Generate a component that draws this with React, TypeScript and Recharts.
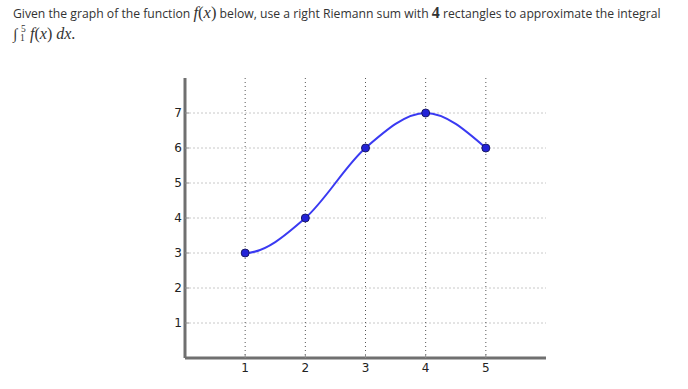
import { LineChart, Line, XAxis, YAxis, CartesianGrid } from "recharts"

const xValues = [1, 2, 3, 4, 5]
const fValues = [3, 4, 6, 7, 6]
const xTicks = [1, 2, 3, 4, 5]
const yTicks = [1, 2, 3, 4, 5, 6, 7]

const points = xValues.map((x, i) => ({ x, y: fValues[i] }))

const mathFont = "'Liberation Serif', 'DejaVu Serif', serif"

// monotone cubic, but starting flat (the reference curve leaves the first point horizontally)
const flatStartMonotone = (context: any) => {
    let xs: number[] = []
    let ys: number[] = []
    return {
        areaStart() {},
        areaEnd() {},
        lineStart() {
            xs = []
            ys = []
        },
        point(x: number, y: number) {
            xs.push(+x)
            ys.push(+y)
        },
        lineEnd() {
            const n = xs.length
            if (!n) return
            context.moveTo(xs[0], ys[0])
            if (n === 1) return
            const s: number[] = []
            for (let i = 0; i < n - 1; i++) s.push((ys[i + 1] - ys[i]) / (xs[i + 1] - xs[i]))
            const t: number[] = [0]
            for (let i = 1; i < n - 1; i++) {
                const h0 = xs[i] - xs[i - 1]
                const h1 = xs[i + 1] - xs[i]
                const p = (s[i - 1] * h1 + s[i] * h0) / (h0 + h1)
                t.push((Math.sign(s[i - 1]) + Math.sign(s[i])) * Math.min(Math.abs(s[i - 1]), Math.abs(s[i]), 0.5 * Math.abs(p)))
            }
            t.push(n > 2 ? (3 * s[n - 2] - t[n - 2]) / 2 : s[0])
            for (let i = 0; i < n - 1; i++) {
                const dx = (xs[i + 1] - xs[i]) / 3
                context.bezierCurveTo(xs[i] + dx, ys[i] + dx * t[i], xs[i + 1] - dx, ys[i + 1] - dx * t[i + 1], xs[i + 1], ys[i + 1])
            }
        },
    }
}

const hGrid = (props: any) => {
    const { yAxis, offset } = props
    if (yAxis && typeof yAxis.scale === "function") return yTicks.map((t) => yAxis.scale(t))
    return yTicks.map((t) => offset.top + offset.height * (1 - t / 8))
}

const vGrid = (props: any) => {
    const { xAxis, offset } = props
    if (xAxis && typeof xAxis.scale === "function") return xTicks.map((t) => xAxis.scale(t))
    return xTicks.map((t) => offset.left + (offset.width * t) / 6)
}

export default function App() {
    return (
        <div style={{ position: "absolute", left: 0, top: 0, width: 688, height: 389, background: "#fff", overflow: "hidden" }}>
            <div style={{ position: "absolute", left: 13, top: 4, fontFamily: "'Open Sans', sans-serif", fontSize: 12.2, color: "#333", lineHeight: "18px", whiteSpace: "nowrap" }}>
                Given the graph of the function{" "}
                <span style={{ fontFamily: mathFont, fontSize: 16.5 }}>
                    <i>f</i>(<i>x</i>)
                </span>{" "}
                below, use a right Riemann sum with{" "}
                <span style={{ fontFamily: mathFont, fontWeight: "bold", fontSize: 16 }}>4</span>{" "}
                rectangles to approximate the integral
            </div>
            <div style={{ position: "absolute", left: 13, top: 25, height: 20, width: 100, fontFamily: mathFont, fontSize: 16, color: "#333" }}>
                <span style={{ position: "absolute", left: 0, top: 1, fontSize: 15 }}>∫</span>
                <span style={{ position: "absolute", left: 8, top: -1, fontSize: 9.5 }}>5</span>
                <span style={{ position: "absolute", left: 7, top: 8, fontSize: 9.5 }}>1</span>
                <span style={{ position: "absolute", left: 17, top: 0, whiteSpace: "nowrap" }}>
                    <i>f</i>(<i>x</i>) <i>dx</i>.
                </span>
            </div>
            <div style={{ position: "absolute", left: 0, top: 0 }}>
                <LineChart width={688} height={389} data={points} margin={{ top: 78, right: 142, left: 155, bottom: 1 }}>
                    <CartesianGrid horizontal={true} vertical={false} stroke="#c8c8c8" strokeDasharray="2 2" horizontalCoordinatesGenerator={hGrid} />
                    <CartesianGrid horizontal={false} vertical={true} stroke="#555" strokeDasharray="1 3" verticalCoordinatesGenerator={vGrid} />
                    <XAxis
                        type="number"
                        dataKey="x"
                        domain={[0, 6]}
                        ticks={xTicks}
                        interval={0}
                        height={30}
                        axisLine={{ stroke: "#707070", strokeWidth: 3 }}
                        tickLine={{ stroke: "#909090", strokeWidth: 1 }}
                        tickSize={-4}
                        tickMargin={9}
                        tick={{ fill: "#222", fontSize: 12, fontFamily: "'DejaVu Sans', sans-serif" }}
                    />
                    <YAxis
                        type="number"
                        domain={[0, 8]}
                        ticks={yTicks}
                        interval={0}
                        width={30}
                        axisLine={{ stroke: "#707070", strokeWidth: 3 }}
                        tickLine={{ stroke: "#909090", strokeWidth: 1 }}
                        tickSize={-4}
                        tickMargin={7}
                        tick={{ fill: "#222", fontSize: 12, fontFamily: "'DejaVu Sans', sans-serif" }}
                    />
                    <Line
                        type={flatStartMonotone as any}
                        dataKey="y"
                        stroke="#3a3af2"
                        strokeWidth={2}
                        dot={{ r: 4, fill: "#2323d8", stroke: "#1a1a66", strokeWidth: 1, fillOpacity: 1 }}
                        isAnimationActive={false}
                    />
                </LineChart>
            </div>
        </div>
    )
}
